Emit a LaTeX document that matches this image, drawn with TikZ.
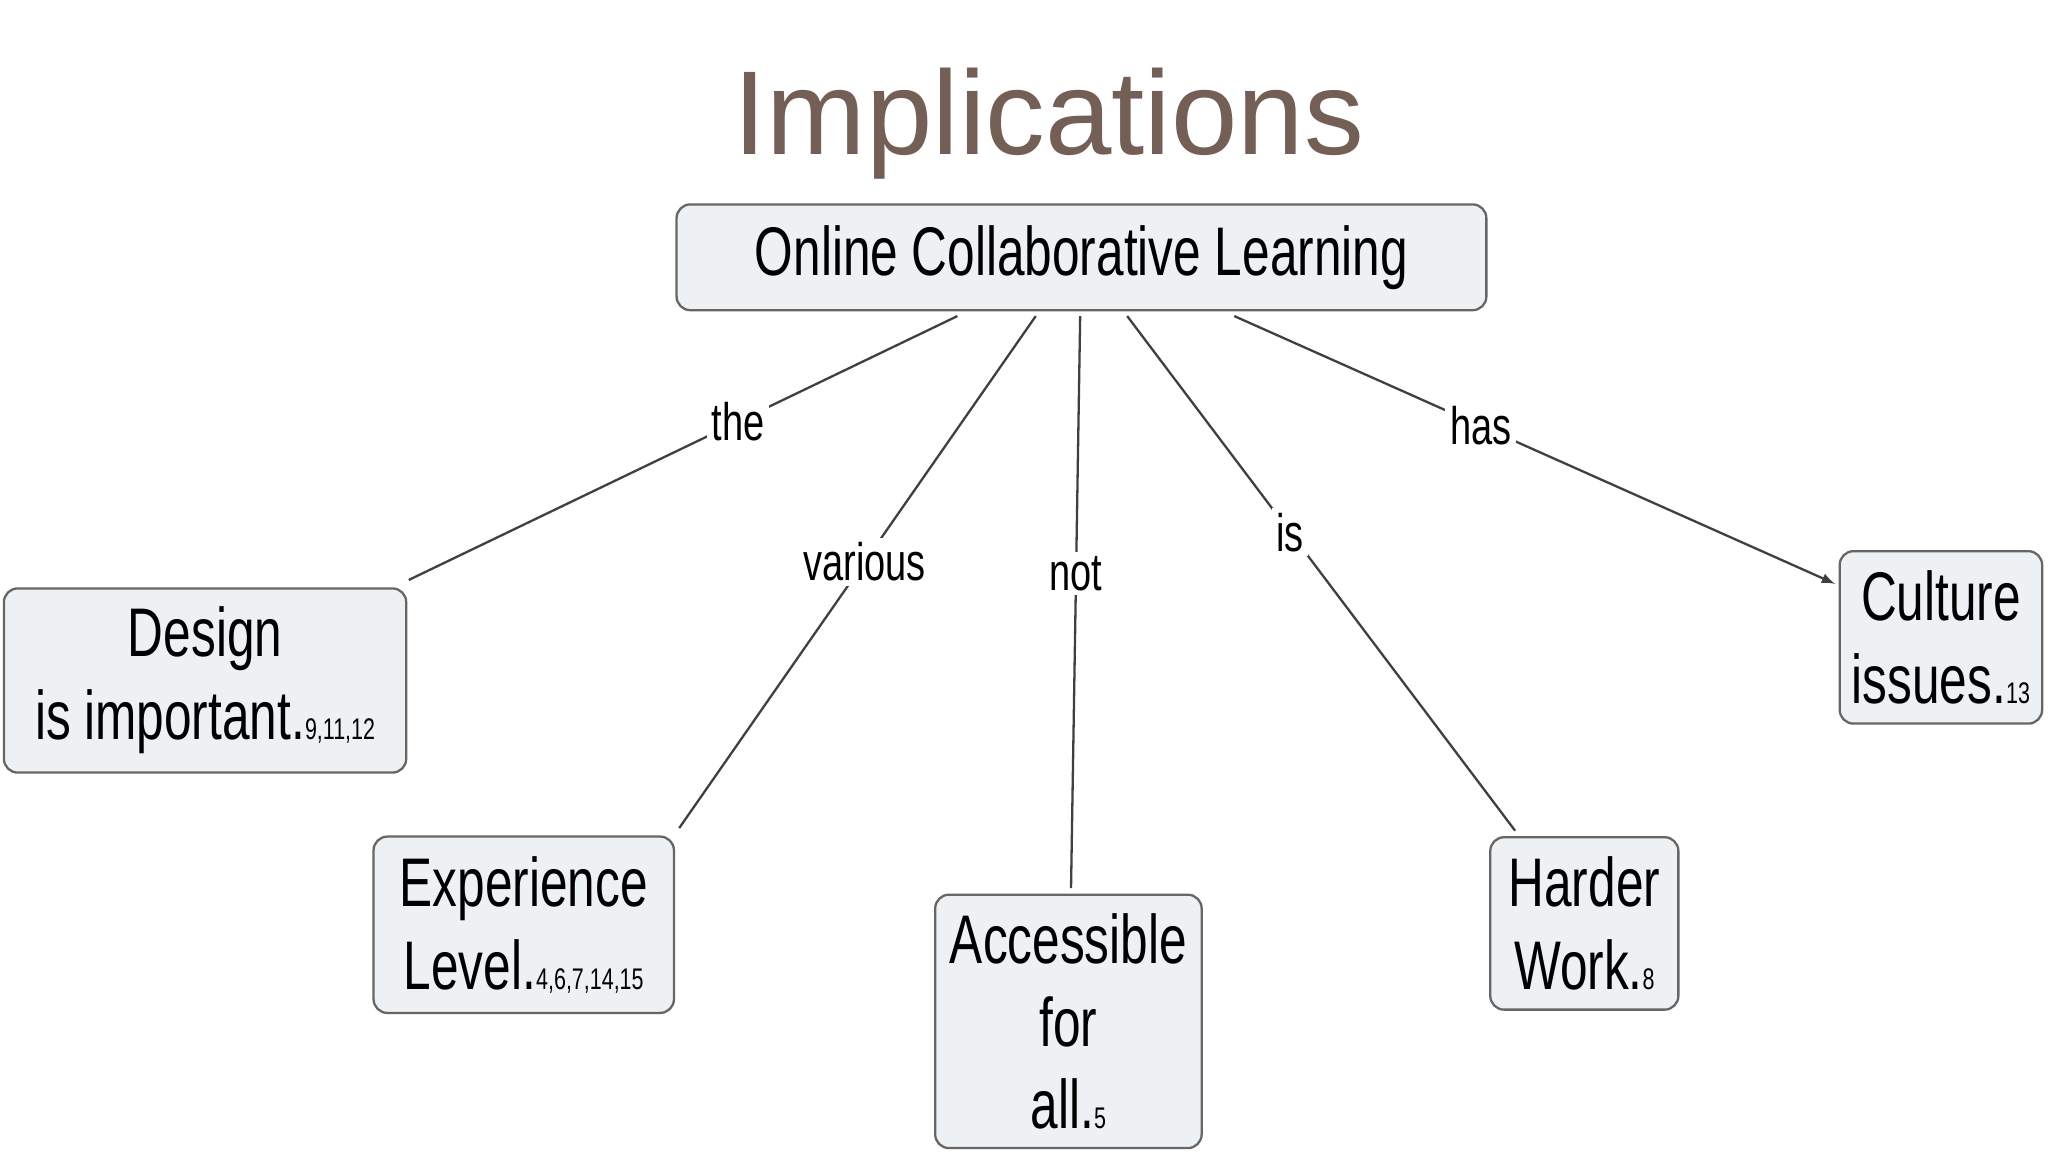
\documentclass[tikz,border=0pt]{standalone}
\usepackage{fontspec}
\setmainfont{Liberation Sans}
\newfontfamily\cond[FakeStretch=0.72]{Liberation Sans}
\begin{document}
\begin{tikzpicture}[x=0.02cm,y=-0.02cm,
  box/.style={draw=black!60,fill=gray!6!blue!2,rounded corners=6pt,line width=1pt,align=center,inner sep=0pt,font=\cond\fontsize{30}{36}\selectfont},
  lab/.style={fill=white,inner sep=2pt,font=\cond\fontsize{23}{26}\selectfont},
  link/.style={draw=black!75,line width=1pt},
  sub/.style={}]
\useasboundingbox (0,0) rectangle (1568,882);
\fill[white] (0,0) rectangle (1568,882);
\definecolor{titlec}{RGB}{115,95,85}
\definecolor{boxf}{RGB}{238,241,244}
\tikzset{box/.append style={fill=boxf}}
\newcommand{\sm}[1]{{\fontsize{13}{14}\selectfont #1}}
\node[text=titlec,font=\fontsize{52}{60}\selectfont] (title) at (803,95) {Implications};
\node[box,minimum width=620*0.02cm,minimum height=81*0.02cm] (top) at (828,197) {Online Collaborative Learning};
\node[box,minimum width=308*0.02cm,minimum height=141*0.02cm] (design) at (157,521) {Design\\is important.\sm{9,11,12}};
\node[box,minimum width=230*0.02cm,minimum height=135*0.02cm] (exp) at (401,708) {Experience\\Level.\sm{4,6,7,14,15}};
\node[box,minimum width=204*0.02cm,minimum height=194*0.02cm] (acc) at (818,782) {Accessible\\for\\all.\sm{5}};
\node[box,minimum width=144*0.02cm,minimum height=132*0.02cm] (hard) at (1213,707) {Harder\\Work.\sm{8}};
\node[box,minimum width=155*0.02cm,minimum height=132*0.02cm] (cult) at (1486,488) {Culture\\issues.\sm{13}};
\coordinate (s1) at (733,242); \coordinate (e1) at (313,444);
\coordinate (s2) at (793,242); \coordinate (e2) at (520,634);
\coordinate (s3) at (827,242); \coordinate (e3) at (820,680);
\coordinate (s4) at (863,242); \coordinate (e4) at (1160,636);
\coordinate (s5) at (945,242); \coordinate (e5) at (1405,447);
\draw[link] (s1) -- node[lab,pos=0.4]{the} (e1);
\draw[link] (s2) -- node[lab,pos=0.48]{various} (e2);
\draw[link] (s3) -- node[lab,pos=0.45]{not} (e3);
\draw[link] (s4) -- node[lab,pos=0.42]{is} (e4);
\draw[link,-latex] (s5) -- node[lab,pos=0.41]{has} (e5);
\end{tikzpicture}
\end{document}
